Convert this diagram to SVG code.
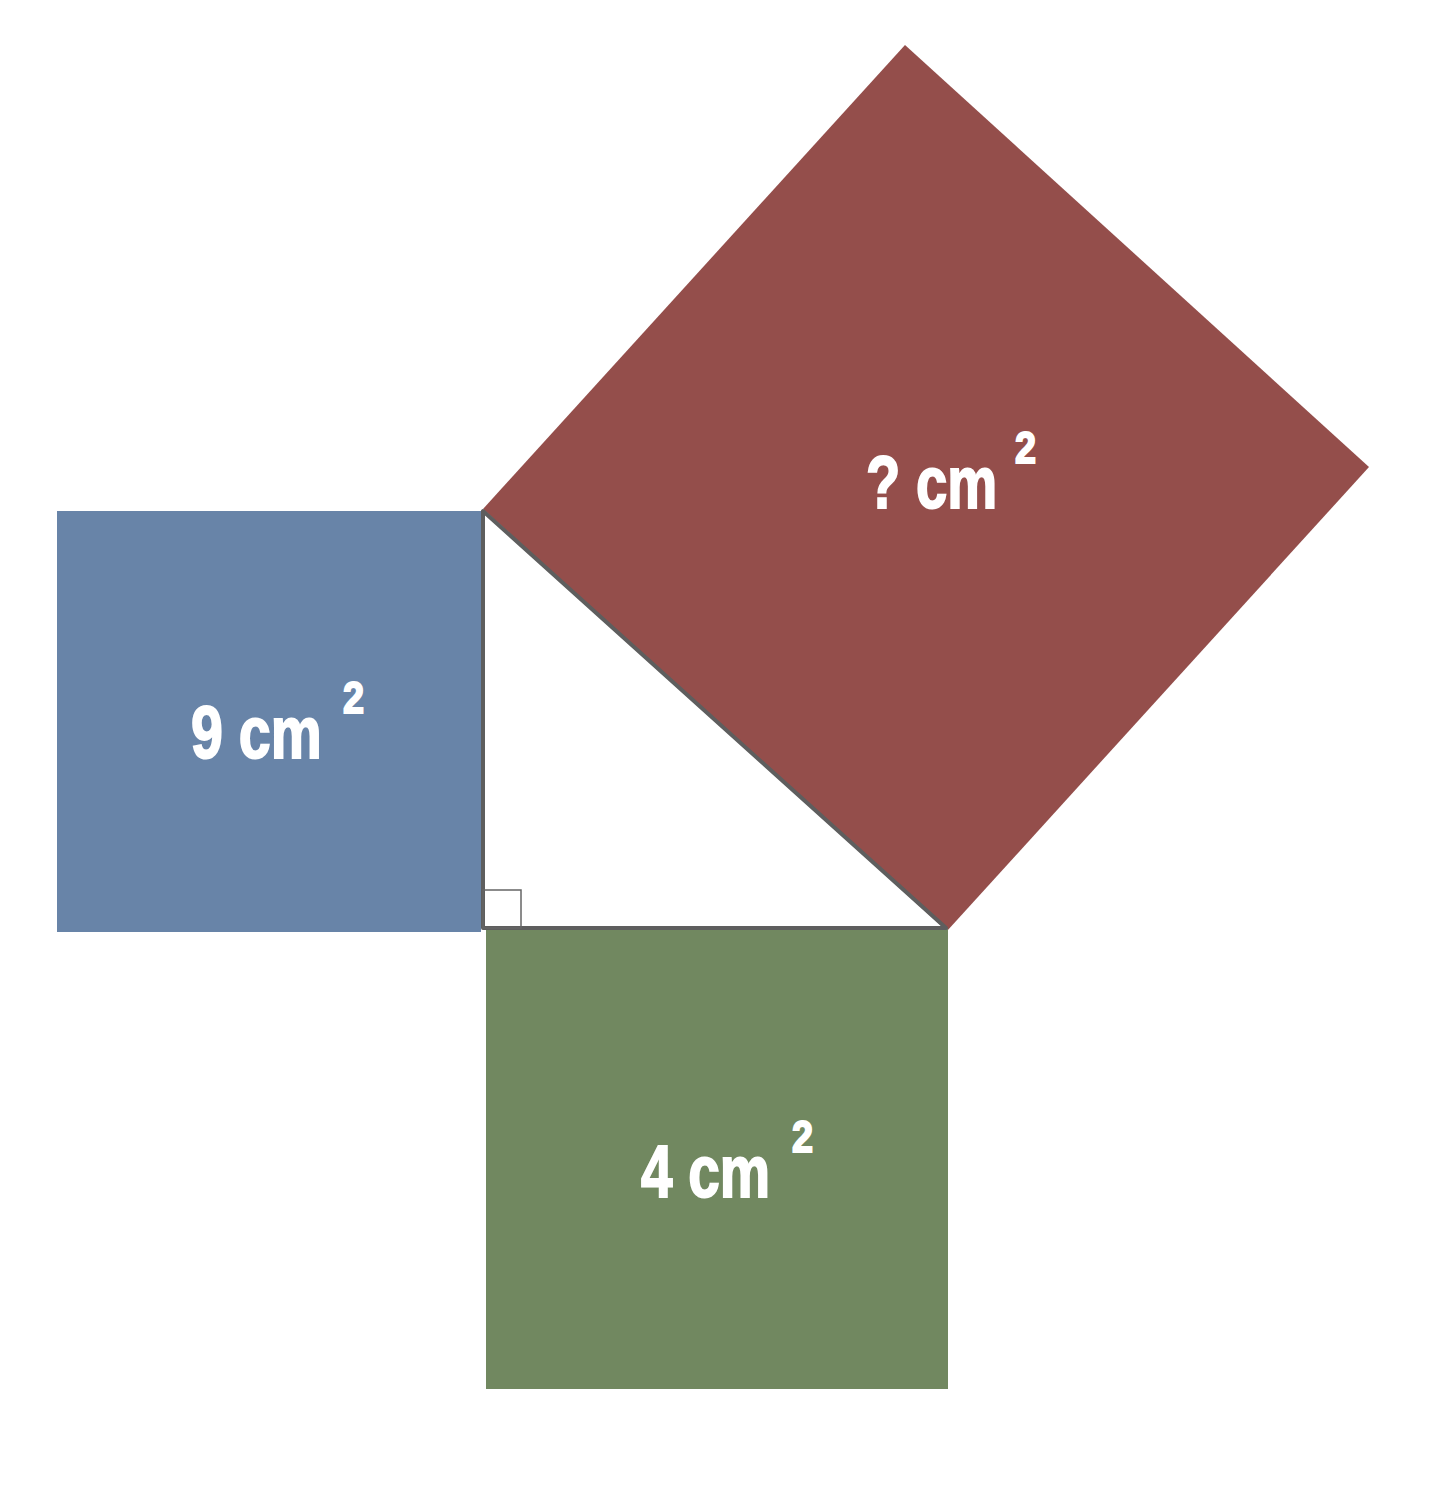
<svg xmlns="http://www.w3.org/2000/svg" width="1448" height="1490" viewBox="0 0 1448 1490">
<style>
.lbl{font-family:"Liberation Sans","DejaVu Sans",sans-serif;font-weight:bold;fill:#ffffff;stroke:#ffffff;stroke-width:2;}
.big{font-size:74px;}
.sup{font-size:44px;}
.edge{fill:none;stroke:#5e5e5e;stroke-width:4;stroke-linejoin:round;}
</style>
<rect x="0" y="0" width="1448" height="1490" fill="#ffffff"/>
<g id="square-hyp">
<polygon points="905,45 1369,467 947,931 483,509" fill="#944e4b"/>
<text class="lbl big" transform="translate(866,508) scale(0.76,1)" x="0" y="0">? cm</text>
<text class="lbl sup" transform="translate(1015,463) scale(0.86,1)" x="0" y="0">2</text>
</g>
<g id="square-a">
<rect x="57" y="511" width="424" height="421" fill="#6884a8"/>
<text class="lbl big" transform="translate(191,758) scale(0.775,1)" x="0" y="0">9 cm</text>
<text class="lbl sup" transform="translate(343,713) scale(0.86,1)" x="0" y="0">2</text>
</g>
<g id="square-b">
<rect x="486" y="928" width="462" height="461" fill="#718860"/>
<text class="lbl big" transform="translate(641,1197) scale(0.765,1)" x="0" y="0">4 cm</text>
<text class="lbl sup" transform="translate(792,1152) scale(0.86,1)" x="0" y="0">2</text>
</g>
<g id="triangle">
<polygon class="edge" points="483,511 483,928 946,928"/>
<rect x="483" y="890" width="38" height="38" fill="none" stroke="#666666" stroke-width="1.5"/>
</g>
</svg>
